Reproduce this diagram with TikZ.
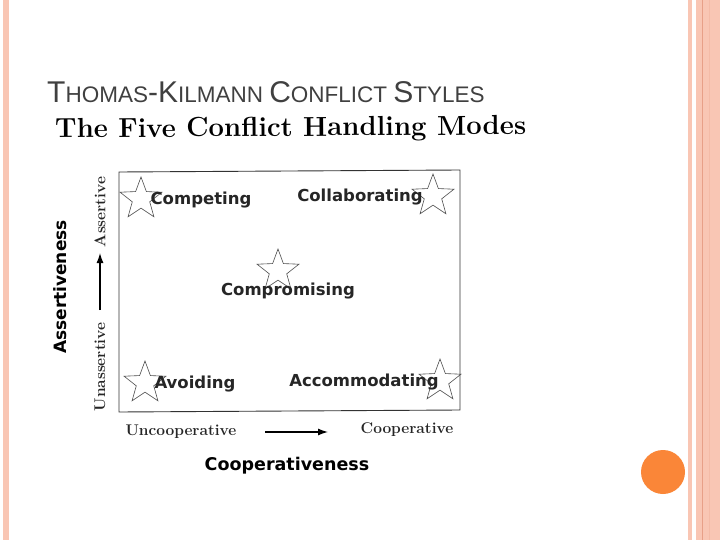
\documentclass[tikz,border=0pt]{standalone}
\usepackage{fontspec}
\setsansfont{DejaVu Sans}
\newfontfamily\titlefont{Liberation Sans}
\usetikzlibrary{shapes.geometric,arrows.meta}
\definecolor{pinkb}{HTML}{F9C6B4}
\definecolor{pinkd}{HTML}{E8A088}
\definecolor{orng}{HTML}{FA8638}
\begin{document}
\begin{tikzpicture}[x=1pt,y=-1pt,
 starn/.style={star,star points=5,star point ratio=2.4,draw=black!70,line width=0.6pt,minimum size=44pt,inner sep=0pt},
 mode/.style={font=\sffamily\bfseries\fontsize{16.5}{18}\selectfont,text=black!85},
 ax/.style={font=\rmfamily\bfseries\fontsize{15.5}{17}\selectfont,text=black!85}]
\useasboundingbox (0,0) rectangle (720,540);
\fill[white] (0,0) rectangle (720,540);
\fill[pinkb] (3,0) rectangle (9,540);
\fill[pinkb] (688,0) rectangle (692,540);
\fill[pinkb] (696,0) rectangle (720,540);
\draw[pinkd,line width=0.6pt] (702,0) -- (702,540);
\draw[pinkb!70!pinkd,line width=0.6pt] (709,0) -- (709,540);
\fill[orng] (663,472) circle (22);
\node[anchor=west,text=black!75,font=\titlefont,inner sep=0pt] (title) at (47,92) {{\fontsize{30}{32}\selectfont T}{\fontsize{22.5}{24}\selectfont HOMAS}{\fontsize{30}{32}\selectfont -K}{\fontsize{22.5}{24}\selectfont ILMANN }{\fontsize{30}{32}\selectfont C}{\fontsize{22.5}{24}\selectfont ONFLICT }{\fontsize{30}{32}\selectfont S}{\fontsize{22.5}{24}\selectfont TYLES}};
\node[anchor=west,font=\rmfamily\bfseries\fontsize{27.5}{30}\selectfont,rotate=0.4,inner sep=0pt] (head) at (55,131) {The Five Conflict Handling Modes};
\draw[black!80,line width=0.9pt] (119,172) -- (460,170) -- (460,410) -- (119,412) -- cycle;
\node[starn] (s1) at (141,199) {};
\node[starn] (s2) at (433,196) {};
\node[starn] (s3) at (278,271) {};
\node[starn] (s4) at (145,383) {};
\node[starn] (s5) at (440,381) {};
\node[mode] (m1) at (201,200) {Competing};
\node[mode] (m2) at (360,197) {Collaborating};
\node[mode] (m3) at (288,291) {Compromising};
\node[mode] (m4) at (195,384) {Avoiding};
\node[mode] (m5) at (364,382) {Accommodating};
\node[ax,rotate=90] (a1) at (100,212) {Assertive};
\node[ax,rotate=90] (a2) at (100,367) {Unassertive};
\coordinate (ab) at (100,310);
\coordinate (at) at (100,253);
\draw[-{Latex[length=10pt,width=7pt]},line width=1.3pt] (ab) -- (at);
\node[font=\sffamily\bfseries\fontsize{17}{19}\selectfont,rotate=90] (a3) at (60,287) {Assertiveness};
\node[ax] (c1) at (181,432) {Uncooperative};
\node[ax] (c2) at (407,430) {Cooperative};
\coordinate (cl) at (265,432);
\coordinate (cr) at (328,432);
\draw[-{Latex[length=10pt,width=7pt]},line width=1.3pt] (cl) -- (cr);
\node[font=\sffamily\bfseries\fontsize{17.5}{19}\selectfont] (c3) at (287,466) {Cooperativeness};
\end{tikzpicture}
\end{document}
